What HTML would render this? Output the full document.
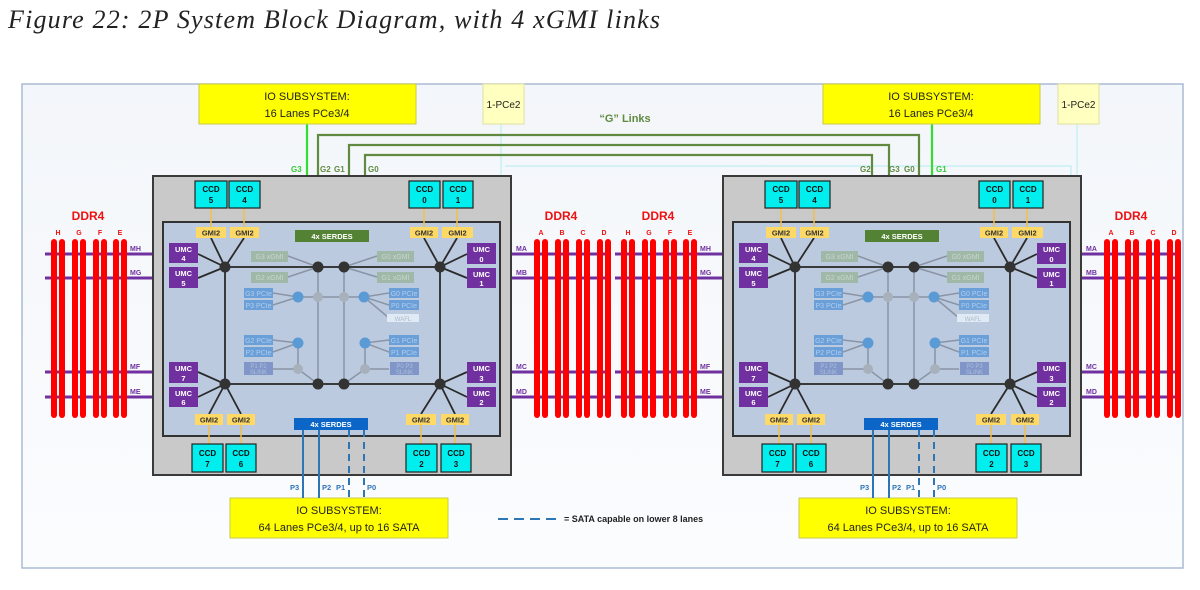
<!DOCTYPE html>
<html><head><meta charset="utf-8"><style>
html,body{margin:0;padding:0;background:#fff;width:1200px;height:590px;overflow:hidden}
svg{display:block}
text{font-family:"Liberation Sans",sans-serif}
</style></head><body>
<svg width="1200" height="590" viewBox="0 0 1200 590" xmlns="http://www.w3.org/2000/svg">
<defs>
<linearGradient id="bg" x1="0" y1="0" x2="0" y2="1"><stop offset="0" stop-color="#f3f6fa"/><stop offset="1" stop-color="#fbfcfe"/></linearGradient>
</defs>
<text x="8" y="28" font-family="Liberation Serif" font-style="italic" font-size="26" fill="#222" textLength="652" style="font-family:'Liberation Serif',serif">Figure 22: 2P System Block Diagram, with 4 xGMI links</text>
<rect x="22" y="84" width="1161" height="484" fill="url(#bg)" stroke="#a9bcd2" stroke-width="1.5"/>

<!-- faint cyan WAFL lines -->
<g stroke="#bfeef2" stroke-width="1.2" fill="none">
<polyline points="501,124 501,316 419,316"/>
<polyline points="505,166 1071,166 1071,316"/>
<polyline points="1077,124 1077,316 989,316"/>
</g>

<!-- G links -->
<g stroke="#5f8a3f" stroke-width="2.2" fill="none">
<polyline points="318,230 318,135 919,135 919,230"/>
<polyline points="349,230 349,145 889,145 889,230"/>
<polyline points="365,230 365,155 872,155 872,230"/>
</g>
<line x1="307" y1="124" x2="307" y2="230" stroke="#33dd33" stroke-width="2.2"/>
<line x1="932" y1="124" x2="932" y2="230" stroke="#33dd33" stroke-width="2.2"/>
<g font-size="8" font-weight="bold" fill="#5f8a3f">
<text x="291" y="172" fill="#33cc33">G3</text><text x="320" y="172">G2</text><text x="334" y="172">G1</text><text x="368" y="172">G0</text>
<text x="860" y="172">G2</text><text x="889" y="172">G3</text><text x="904" y="172">G0</text><text x="936" y="172" fill="#33cc33">G1</text>
</g>
<text x="625" y="122" font-size="11" font-weight="bold" fill="#5f8a3f" text-anchor="middle">“G” Links</text>

<!-- top IO boxes -->
<rect x="199" y="84" width="217" height="40" fill="#ffff00" stroke="#c8c850"/>
<text x="307" y="100" font-size="11" text-anchor="middle" fill="#222">IO SUBSYSTEM:</text>
<text x="307" y="117" font-size="11" text-anchor="middle" fill="#222">16 Lanes PCe3/4</text>
<rect x="823" y="84" width="217" height="40" fill="#ffff00" stroke="#c8c850"/>
<text x="931" y="100" font-size="11" text-anchor="middle" fill="#222">IO SUBSYSTEM:</text>
<text x="931" y="117" font-size="11" text-anchor="middle" fill="#222">16 Lanes PCe3/4</text>
<rect x="483" y="84" width="41" height="40" fill="#ffffc0" stroke="#e0e0a0"/>
<text x="503.5" y="108" font-size="10" text-anchor="middle" fill="#222">1-PCe2</text>
<rect x="1058" y="84" width="41" height="40" fill="#ffffc0" stroke="#e0e0a0"/>
<text x="1078.5" y="108" font-size="10" text-anchor="middle" fill="#222">1-PCe2</text>

<!-- bottom IO boxes -->
<rect x="230" y="498" width="218" height="40" fill="#ffff00" stroke="#c8c850"/>
<text x="339" y="514" font-size="11" text-anchor="middle" fill="#222">IO SUBSYSTEM:</text>
<text x="339" y="531" font-size="11" text-anchor="middle" fill="#222">64 Lanes PCe3/4, up to 16 SATA</text>
<rect x="799" y="498" width="218" height="40" fill="#ffff00" stroke="#c8c850"/>
<text x="908" y="514" font-size="11" text-anchor="middle" fill="#222">IO SUBSYSTEM:</text>
<text x="908" y="531" font-size="11" text-anchor="middle" fill="#222">64 Lanes PCe3/4, up to 16 SATA</text>

<!-- legend -->
<line x1="498" y1="519" x2="556" y2="519" stroke="#2e75b6" stroke-width="2" stroke-dasharray="10,6"/>
<text x="564" y="522" font-size="9" font-weight="bold" fill="#222">=  SATA capable on lower 8 lanes</text>

<!-- Sockets -->
<g id="sockL">
<!-- memory lines -->
<g stroke="#7030a0" stroke-width="3">
<line x1="45" y1="254" x2="169" y2="254"/><line x1="45" y1="278" x2="169" y2="278"/>
<line x1="45" y1="372" x2="169" y2="372"/><line x1="45" y1="397" x2="169" y2="397"/>
<line x1="496" y1="254" x2="608" y2="254"/><line x1="496" y1="278" x2="608" y2="278"/>
<line x1="496" y1="372" x2="608" y2="372"/><line x1="496" y1="397" x2="608" y2="397"/>
</g>
<g fill="#ff0000">
<rect x="51" y="239" width="6" height="179" rx="3"/><rect x="59" y="239" width="6" height="179" rx="3"/>
<rect x="72" y="239" width="6" height="179" rx="3"/><rect x="80" y="239" width="6" height="179" rx="3"/>
<rect x="93" y="239" width="6" height="179" rx="3"/><rect x="101" y="239" width="6" height="179" rx="3"/>
<rect x="113" y="239" width="6" height="179" rx="3"/><rect x="121" y="239" width="6" height="179" rx="3"/>
<rect x="534" y="239" width="6" height="179" rx="3"/><rect x="542" y="239" width="6" height="179" rx="3"/>
<rect x="555" y="239" width="6" height="179" rx="3"/><rect x="563" y="239" width="6" height="179" rx="3"/>
<rect x="576" y="239" width="6" height="179" rx="3"/><rect x="584" y="239" width="6" height="179" rx="3"/>
<rect x="597" y="239" width="6" height="179" rx="3"/><rect x="605" y="239" width="6" height="179" rx="3"/>
</g>
<g fill="#ee1111" font-weight="bold" text-anchor="middle">
<text x="88" y="220" font-size="12">DDR4</text><text x="561" y="220" font-size="12">DDR4</text>
<g font-size="7"><text x="58" y="235">H</text><text x="79" y="235">G</text><text x="100" y="235">F</text><text x="120" y="235">E</text>
<text x="541" y="235">A</text><text x="562" y="235">B</text><text x="583" y="235">C</text><text x="604" y="235">D</text></g>
</g>
<g fill="#7030a0" font-size="7" font-weight="bold">
<text x="130" y="251">MH</text><text x="130" y="275">MG</text><text x="130" y="369">MF</text><text x="130" y="394">ME</text>
<text x="516" y="251">MA</text><text x="516" y="275">MB</text><text x="516" y="369">MC</text><text x="516" y="394">MD</text>
</g>
<rect x="153" y="176" width="358" height="299" fill="#c9c9c9" stroke="#3a3a3a" stroke-width="2"/>
<rect x="163" y="222" width="337" height="214" fill="#bccae0" stroke="#333" stroke-width="2"/>
<!-- CCD-GMI connectors -->
<g stroke="#f2c04a" stroke-width="1.5">
<line x1="211" y1="208" x2="211" y2="227"/><line x1="244" y1="208" x2="244" y2="227"/>
<line x1="424" y1="208" x2="424" y2="227"/><line x1="457" y1="208" x2="457" y2="227"/>
<line x1="209" y1="425" x2="209" y2="444"/><line x1="241" y1="425" x2="241" y2="444"/>
<line x1="421" y1="425" x2="421" y2="444"/><line x1="455" y1="425" x2="455" y2="444"/>
</g>
<!-- inner fabric gray lines -->
<g stroke="#8a94a4" stroke-width="1.5" fill="none">
<line x1="318" y1="267" x2="318" y2="384"/><line x1="344" y1="267" x2="344" y2="384"/>
<line x1="298" y1="297" x2="364" y2="297"/>
<line x1="273" y1="293" x2="298" y2="297"/><line x1="273" y1="305" x2="298" y2="297"/>
<line x1="389" y1="293" x2="364" y2="297"/><line x1="389" y1="305" x2="364" y2="297"/><line x1="389" y1="318" x2="364" y2="297"/>
<line x1="273" y1="340" x2="298" y2="343"/><line x1="273" y1="352" x2="298" y2="343"/>
<line x1="389" y1="340" x2="365" y2="343"/><line x1="389" y1="352" x2="365" y2="343"/>
<line x1="298" y1="343" x2="298" y2="369"/><line x1="365" y1="343" x2="365" y2="369"/>
<line x1="273" y1="369" x2="298" y2="369"/><line x1="389" y1="369" x2="365" y2="369"/>
<line x1="298" y1="369" x2="318" y2="384"/><line x1="365" y1="369" x2="344" y2="384"/>
<line x1="288" y1="256" x2="318" y2="267"/><line x1="288" y1="277" x2="318" y2="267"/>
<line x1="377" y1="256" x2="344" y2="267"/><line x1="377" y1="277" x2="344" y2="267"/>
</g>
<!-- fabric black -->
<g stroke="#2a2a2a" stroke-width="1.8" fill="none">
<rect x="225" y="267" width="215" height="117"/>
<line x1="225" y1="267" x2="198" y2="254"/><line x1="225" y1="267" x2="198" y2="278"/>
<line x1="225" y1="267" x2="211" y2="238"/><line x1="225" y1="267" x2="244" y2="238"/>
<line x1="440" y1="267" x2="467" y2="254"/><line x1="440" y1="267" x2="467" y2="278"/>
<line x1="440" y1="267" x2="424" y2="238"/><line x1="440" y1="267" x2="457" y2="238"/>
<line x1="225" y1="384" x2="198" y2="372"/><line x1="225" y1="384" x2="198" y2="397"/>
<line x1="225" y1="384" x2="209" y2="414"/><line x1="225" y1="384" x2="241" y2="414"/>
<line x1="440" y1="384" x2="467" y2="372"/><line x1="440" y1="384" x2="467" y2="397"/>
<line x1="440" y1="384" x2="421" y2="414"/><line x1="440" y1="384" x2="455" y2="414"/>
</g>
<g fill="#333">
<circle cx="225" cy="267" r="5.5"/><circle cx="318" cy="267" r="5.5"/><circle cx="344" cy="267" r="5.5"/><circle cx="440" cy="267" r="5.5"/>
<circle cx="225" cy="384" r="5.5"/><circle cx="318" cy="384" r="5.5"/><circle cx="344" cy="384" r="5.5"/><circle cx="440" cy="384" r="5.5"/>
</g>
<g fill="#a8b0bc"><circle cx="318" cy="297" r="5"/><circle cx="344" cy="297" r="5"/><circle cx="298" cy="369" r="5"/><circle cx="365" cy="369" r="5"/></g>
<g fill="#5b9bd5"><circle cx="298" cy="297" r="5.5"/><circle cx="364" cy="297" r="5.5"/><circle cx="298" cy="343" r="5.5"/><circle cx="365" cy="343" r="5.5"/></g>
<!-- faded labels -->
<g font-size="7" text-anchor="middle">
<rect x="251" y="251" width="37" height="11" fill="#9fb8a8"/><text x="269.5" y="259" fill="#c8d6cc">G3 xGMI</text>
<rect x="251" y="272" width="37" height="11" fill="#9fb8a8"/><text x="269.5" y="280" fill="#c8d6cc">G2 xGMI</text>
<rect x="377" y="251" width="37" height="11" fill="#9fb8a8"/><text x="395.5" y="259" fill="#c8d6cc">G0 xGMI</text>
<rect x="377" y="272" width="37" height="11" fill="#9fb8a8"/><text x="395.5" y="280" fill="#c8d6cc">G1 xGMI</text>
<rect x="244" y="288" width="29" height="10" fill="#6a9fd8"/><text x="258.5" y="296" fill="#b0cdee">G3 PCIe</text>
<rect x="244" y="300" width="29" height="10" fill="#6a9fd8"/><text x="258.5" y="308" fill="#b0cdee">P3 PCIe</text>
<rect x="389" y="288" width="30" height="10" fill="#6a9fd8"/><text x="404" y="296" fill="#b0cdee">G0 PCIe</text>
<rect x="389" y="300" width="30" height="10" fill="#6a9fd8"/><text x="404" y="308" fill="#b0cdee">P0 PCIe</text>
<rect x="387" y="314" width="32" height="8" fill="#dfeaf4"/><text x="403" y="321" font-size="6" fill="#a8b8c8">WAFL</text>
<rect x="244" y="335" width="29" height="10" fill="#6a9fd8"/><text x="258.5" y="343" fill="#b0cdee">G2 PCIe</text>
<rect x="244" y="347" width="29" height="10" fill="#6a9fd8"/><text x="258.5" y="355" fill="#b0cdee">P2 PCIe</text>
<rect x="389" y="335" width="30" height="10" fill="#6a9fd8"/><text x="404" y="343" fill="#b0cdee">G1 PCIe</text>
<rect x="389" y="347" width="30" height="10" fill="#6a9fd8"/><text x="404" y="355" fill="#b0cdee">P1 PCIe</text>
<rect x="244" y="362" width="29" height="13" fill="#8096c8"/><text x="258.5" y="368" font-size="6" fill="#b0bedc">P1 P2</text><text x="258.5" y="374" font-size="6" fill="#b0bedc">SLINK</text>
<rect x="390" y="362" width="29" height="13" fill="#8096c8"/><text x="404.5" y="368" font-size="6" fill="#b0bedc">P0 P3</text><text x="404.5" y="374" font-size="6" fill="#b0bedc">SLINK</text>
</g>
<!-- GMI2 -->
<g fill="#ffd966">
<rect x="196" y="227" width="30" height="11"/><rect x="230" y="227" width="29" height="11"/>
<rect x="410" y="227" width="28" height="11"/><rect x="442" y="227" width="31" height="11"/>
<rect x="195" y="414" width="28" height="11"/><rect x="227" y="414" width="28" height="11"/>
<rect x="406" y="414" width="30" height="11"/><rect x="441" y="414" width="28" height="11"/>
</g>
<g font-size="7.5" font-weight="bold" fill="#333" text-anchor="middle">
<text x="211" y="235.5">GMI2</text><text x="244.5" y="235.5">GMI2</text><text x="424" y="235.5">GMI2</text><text x="457.5" y="235.5">GMI2</text>
<text x="209" y="422.5">GMI2</text><text x="241" y="422.5">GMI2</text><text x="421" y="422.5">GMI2</text><text x="455" y="422.5">GMI2</text>
</g>
<!-- CCDs -->
<g fill="#00eeee" stroke="#222" stroke-width="1.2">
<rect x="195" y="181" width="32" height="27"/><rect x="229" y="181" width="31" height="27"/>
<rect x="409" y="181" width="31" height="27"/><rect x="443" y="181" width="30" height="27"/>
<rect x="192" y="444" width="31" height="28"/><rect x="226" y="444" width="30" height="28"/>
<rect x="406" y="444" width="31" height="28"/><rect x="441" y="444" width="30" height="28"/>
</g>
<g font-size="8" font-weight="bold" fill="#111" text-anchor="middle">
<text x="211" y="192">CCD</text><text x="211" y="203">5</text>
<text x="244.5" y="192">CCD</text><text x="244.5" y="203">4</text>
<text x="424.5" y="192">CCD</text><text x="424.5" y="203">0</text>
<text x="458" y="192">CCD</text><text x="458" y="203">1</text>
<text x="207.5" y="456">CCD</text><text x="207.5" y="467">7</text>
<text x="241" y="456">CCD</text><text x="241" y="467">6</text>
<text x="421.5" y="456">CCD</text><text x="421.5" y="467">2</text>
<text x="456" y="456">CCD</text><text x="456" y="467">3</text>
</g>
<!-- UMCs -->
<g fill="#7030a0">
<rect x="169" y="243" width="29" height="20"/><rect x="169" y="267" width="29" height="21"/>
<rect x="467" y="243" width="29" height="21"/><rect x="467" y="268" width="29" height="20"/>
<rect x="169" y="362" width="29" height="21"/><rect x="169" y="387" width="29" height="20"/>
<rect x="467" y="362" width="29" height="21"/><rect x="467" y="387" width="29" height="20"/>
</g>
<g font-size="7.5" font-weight="bold" fill="#fff" text-anchor="middle">
<text x="183.5" y="252">UMC</text><text x="183.5" y="261">4</text>
<text x="183.5" y="276">UMC</text><text x="183.5" y="286">5</text>
<text x="481.5" y="252">UMC</text><text x="481.5" y="262">0</text>
<text x="481.5" y="277">UMC</text><text x="481.5" y="286">1</text>
<text x="183.5" y="371">UMC</text><text x="183.5" y="381">7</text>
<text x="183.5" y="396">UMC</text><text x="183.5" y="405">6</text>
<text x="481.5" y="371">UMC</text><text x="481.5" y="381">3</text>
<text x="481.5" y="396">UMC</text><text x="481.5" y="405">2</text>
</g>
<!-- SERDES -->
<rect x="295" y="230" width="74" height="12" fill="#548235"/>
<text x="332" y="239" font-size="7.5" font-weight="bold" fill="#fff" text-anchor="middle">4x SERDES</text>
<rect x="294" y="418" width="74" height="12" fill="#0b66c8"/>
<text x="331" y="427" font-size="7.5" font-weight="bold" fill="#fff" text-anchor="middle">4x SERDES</text>
<!-- P lines -->
<g stroke="#2e75b6" stroke-width="2">
<line x1="303" y1="430" x2="303" y2="498"/><line x1="319" y1="430" x2="319" y2="498"/>
<line x1="349" y1="430" x2="349" y2="498" stroke-dasharray="7,5"/><line x1="364" y1="430" x2="364" y2="498" stroke-dasharray="7,5"/>
</g>
<g font-size="7.5" font-weight="bold" fill="#2e75b6">
<text x="290" y="490">P3</text><text x="322" y="490">P2</text><text x="336" y="490">P1</text><text x="367" y="490">P0</text>
</g>
</g>

<g transform="translate(570,0)">
<g stroke="#7030a0" stroke-width="3">
<line x1="45" y1="254" x2="169" y2="254"/><line x1="45" y1="278" x2="169" y2="278"/>
<line x1="45" y1="372" x2="169" y2="372"/><line x1="45" y1="397" x2="169" y2="397"/>
<line x1="496" y1="254" x2="608" y2="254"/><line x1="496" y1="278" x2="608" y2="278"/>
<line x1="496" y1="372" x2="608" y2="372"/><line x1="496" y1="397" x2="608" y2="397"/>
</g>
<g fill="#ff0000">
<rect x="51" y="239" width="6" height="179" rx="3"/><rect x="59" y="239" width="6" height="179" rx="3"/>
<rect x="72" y="239" width="6" height="179" rx="3"/><rect x="80" y="239" width="6" height="179" rx="3"/>
<rect x="93" y="239" width="6" height="179" rx="3"/><rect x="101" y="239" width="6" height="179" rx="3"/>
<rect x="113" y="239" width="6" height="179" rx="3"/><rect x="121" y="239" width="6" height="179" rx="3"/>
<rect x="534" y="239" width="6" height="179" rx="3"/><rect x="542" y="239" width="6" height="179" rx="3"/>
<rect x="555" y="239" width="6" height="179" rx="3"/><rect x="563" y="239" width="6" height="179" rx="3"/>
<rect x="576" y="239" width="6" height="179" rx="3"/><rect x="584" y="239" width="6" height="179" rx="3"/>
<rect x="597" y="239" width="6" height="179" rx="3"/><rect x="605" y="239" width="6" height="179" rx="3"/>
</g>
<g fill="#ee1111" font-weight="bold" text-anchor="middle">
<text x="88" y="220" font-size="12">DDR4</text><text x="561" y="220" font-size="12">DDR4</text>
<g font-size="7"><text x="58" y="235">H</text><text x="79" y="235">G</text><text x="100" y="235">F</text><text x="120" y="235">E</text>
<text x="541" y="235">A</text><text x="562" y="235">B</text><text x="583" y="235">C</text><text x="604" y="235">D</text></g>
</g>
<g fill="#7030a0" font-size="7" font-weight="bold">
<text x="130" y="251">MH</text><text x="130" y="275">MG</text><text x="130" y="369">MF</text><text x="130" y="394">ME</text>
<text x="516" y="251">MA</text><text x="516" y="275">MB</text><text x="516" y="369">MC</text><text x="516" y="394">MD</text>
</g>
<rect x="153" y="176" width="358" height="299" fill="#c9c9c9" stroke="#3a3a3a" stroke-width="2"/>
<rect x="163" y="222" width="337" height="214" fill="#bccae0" stroke="#333" stroke-width="2"/>
<g stroke="#f2c04a" stroke-width="1.5">
<line x1="211" y1="208" x2="211" y2="227"/><line x1="244" y1="208" x2="244" y2="227"/>
<line x1="424" y1="208" x2="424" y2="227"/><line x1="457" y1="208" x2="457" y2="227"/>
<line x1="209" y1="425" x2="209" y2="444"/><line x1="241" y1="425" x2="241" y2="444"/>
<line x1="421" y1="425" x2="421" y2="444"/><line x1="455" y1="425" x2="455" y2="444"/>
</g>
<g stroke="#8a94a4" stroke-width="1.5" fill="none">
<line x1="318" y1="267" x2="318" y2="384"/><line x1="344" y1="267" x2="344" y2="384"/>
<line x1="298" y1="297" x2="364" y2="297"/>
<line x1="273" y1="293" x2="298" y2="297"/><line x1="273" y1="305" x2="298" y2="297"/>
<line x1="389" y1="293" x2="364" y2="297"/><line x1="389" y1="305" x2="364" y2="297"/><line x1="389" y1="318" x2="364" y2="297"/>
<line x1="273" y1="340" x2="298" y2="343"/><line x1="273" y1="352" x2="298" y2="343"/>
<line x1="389" y1="340" x2="365" y2="343"/><line x1="389" y1="352" x2="365" y2="343"/>
<line x1="298" y1="343" x2="298" y2="369"/><line x1="365" y1="343" x2="365" y2="369"/>
<line x1="273" y1="369" x2="298" y2="369"/><line x1="389" y1="369" x2="365" y2="369"/>
<line x1="298" y1="369" x2="318" y2="384"/><line x1="365" y1="369" x2="344" y2="384"/>
<line x1="288" y1="256" x2="318" y2="267"/><line x1="288" y1="277" x2="318" y2="267"/>
<line x1="377" y1="256" x2="344" y2="267"/><line x1="377" y1="277" x2="344" y2="267"/>
</g>
<g stroke="#2a2a2a" stroke-width="1.8" fill="none">
<rect x="225" y="267" width="215" height="117"/>
<line x1="225" y1="267" x2="198" y2="254"/><line x1="225" y1="267" x2="198" y2="278"/>
<line x1="225" y1="267" x2="211" y2="238"/><line x1="225" y1="267" x2="244" y2="238"/>
<line x1="440" y1="267" x2="467" y2="254"/><line x1="440" y1="267" x2="467" y2="278"/>
<line x1="440" y1="267" x2="424" y2="238"/><line x1="440" y1="267" x2="457" y2="238"/>
<line x1="225" y1="384" x2="198" y2="372"/><line x1="225" y1="384" x2="198" y2="397"/>
<line x1="225" y1="384" x2="209" y2="414"/><line x1="225" y1="384" x2="241" y2="414"/>
<line x1="440" y1="384" x2="467" y2="372"/><line x1="440" y1="384" x2="467" y2="397"/>
<line x1="440" y1="384" x2="421" y2="414"/><line x1="440" y1="384" x2="455" y2="414"/>
</g>
<g fill="#333">
<circle cx="225" cy="267" r="5.5"/><circle cx="318" cy="267" r="5.5"/><circle cx="344" cy="267" r="5.5"/><circle cx="440" cy="267" r="5.5"/>
<circle cx="225" cy="384" r="5.5"/><circle cx="318" cy="384" r="5.5"/><circle cx="344" cy="384" r="5.5"/><circle cx="440" cy="384" r="5.5"/>
</g>
<g fill="#a8b0bc"><circle cx="318" cy="297" r="5"/><circle cx="344" cy="297" r="5"/><circle cx="298" cy="369" r="5"/><circle cx="365" cy="369" r="5"/></g>
<g fill="#5b9bd5"><circle cx="298" cy="297" r="5.5"/><circle cx="364" cy="297" r="5.5"/><circle cx="298" cy="343" r="5.5"/><circle cx="365" cy="343" r="5.5"/></g>
<g font-size="7" text-anchor="middle">
<rect x="251" y="251" width="37" height="11" fill="#9fb8a8"/><text x="269.5" y="259" fill="#c8d6cc">G3 xGMI</text>
<rect x="251" y="272" width="37" height="11" fill="#9fb8a8"/><text x="269.5" y="280" fill="#c8d6cc">G2 xGMI</text>
<rect x="377" y="251" width="37" height="11" fill="#9fb8a8"/><text x="395.5" y="259" fill="#c8d6cc">G0 xGMI</text>
<rect x="377" y="272" width="37" height="11" fill="#9fb8a8"/><text x="395.5" y="280" fill="#c8d6cc">G1 xGMI</text>
<rect x="244" y="288" width="29" height="10" fill="#6a9fd8"/><text x="258.5" y="296" fill="#b0cdee">G3 PCIe</text>
<rect x="244" y="300" width="29" height="10" fill="#6a9fd8"/><text x="258.5" y="308" fill="#b0cdee">P3 PCIe</text>
<rect x="389" y="288" width="30" height="10" fill="#6a9fd8"/><text x="404" y="296" fill="#b0cdee">G0 PCIe</text>
<rect x="389" y="300" width="30" height="10" fill="#6a9fd8"/><text x="404" y="308" fill="#b0cdee">P0 PCIe</text>
<rect x="387" y="314" width="32" height="8" fill="#dfeaf4"/><text x="403" y="321" font-size="6" fill="#a8b8c8">WAFL</text>
<rect x="244" y="335" width="29" height="10" fill="#6a9fd8"/><text x="258.5" y="343" fill="#b0cdee">G2 PCIe</text>
<rect x="244" y="347" width="29" height="10" fill="#6a9fd8"/><text x="258.5" y="355" fill="#b0cdee">P2 PCIe</text>
<rect x="389" y="335" width="30" height="10" fill="#6a9fd8"/><text x="404" y="343" fill="#b0cdee">G1 PCIe</text>
<rect x="389" y="347" width="30" height="10" fill="#6a9fd8"/><text x="404" y="355" fill="#b0cdee">P1 PCIe</text>
<rect x="244" y="362" width="29" height="13" fill="#8096c8"/><text x="258.5" y="368" font-size="6" fill="#b0bedc">P1 P2</text><text x="258.5" y="374" font-size="6" fill="#b0bedc">SLINK</text>
<rect x="390" y="362" width="29" height="13" fill="#8096c8"/><text x="404.5" y="368" font-size="6" fill="#b0bedc">P0 P3</text><text x="404.5" y="374" font-size="6" fill="#b0bedc">SLINK</text>
</g>
<g fill="#ffd966">
<rect x="196" y="227" width="30" height="11"/><rect x="230" y="227" width="29" height="11"/>
<rect x="410" y="227" width="28" height="11"/><rect x="442" y="227" width="31" height="11"/>
<rect x="195" y="414" width="28" height="11"/><rect x="227" y="414" width="28" height="11"/>
<rect x="406" y="414" width="30" height="11"/><rect x="441" y="414" width="28" height="11"/>
</g>
<g font-size="7.5" font-weight="bold" fill="#333" text-anchor="middle">
<text x="211" y="235.5">GMI2</text><text x="244.5" y="235.5">GMI2</text><text x="424" y="235.5">GMI2</text><text x="457.5" y="235.5">GMI2</text>
<text x="209" y="422.5">GMI2</text><text x="241" y="422.5">GMI2</text><text x="421" y="422.5">GMI2</text><text x="455" y="422.5">GMI2</text>
</g>
<g fill="#00eeee" stroke="#222" stroke-width="1.2">
<rect x="195" y="181" width="32" height="27"/><rect x="229" y="181" width="31" height="27"/>
<rect x="409" y="181" width="31" height="27"/><rect x="443" y="181" width="30" height="27"/>
<rect x="192" y="444" width="31" height="28"/><rect x="226" y="444" width="30" height="28"/>
<rect x="406" y="444" width="31" height="28"/><rect x="441" y="444" width="30" height="28"/>
</g>
<g font-size="8" font-weight="bold" fill="#111" text-anchor="middle">
<text x="211" y="192">CCD</text><text x="211" y="203">5</text>
<text x="244.5" y="192">CCD</text><text x="244.5" y="203">4</text>
<text x="424.5" y="192">CCD</text><text x="424.5" y="203">0</text>
<text x="458" y="192">CCD</text><text x="458" y="203">1</text>
<text x="207.5" y="456">CCD</text><text x="207.5" y="467">7</text>
<text x="241" y="456">CCD</text><text x="241" y="467">6</text>
<text x="421.5" y="456">CCD</text><text x="421.5" y="467">2</text>
<text x="456" y="456">CCD</text><text x="456" y="467">3</text>
</g>
<g fill="#7030a0">
<rect x="169" y="243" width="29" height="20"/><rect x="169" y="267" width="29" height="21"/>
<rect x="467" y="243" width="29" height="21"/><rect x="467" y="268" width="29" height="20"/>
<rect x="169" y="362" width="29" height="21"/><rect x="169" y="387" width="29" height="20"/>
<rect x="467" y="362" width="29" height="21"/><rect x="467" y="387" width="29" height="20"/>
</g>
<g font-size="7.5" font-weight="bold" fill="#fff" text-anchor="middle">
<text x="183.5" y="252">UMC</text><text x="183.5" y="261">4</text>
<text x="183.5" y="276">UMC</text><text x="183.5" y="286">5</text>
<text x="481.5" y="252">UMC</text><text x="481.5" y="262">0</text>
<text x="481.5" y="277">UMC</text><text x="481.5" y="286">1</text>
<text x="183.5" y="371">UMC</text><text x="183.5" y="381">7</text>
<text x="183.5" y="396">UMC</text><text x="183.5" y="405">6</text>
<text x="481.5" y="371">UMC</text><text x="481.5" y="381">3</text>
<text x="481.5" y="396">UMC</text><text x="481.5" y="405">2</text>
</g>
<rect x="295" y="230" width="74" height="12" fill="#548235"/>
<text x="332" y="239" font-size="7.5" font-weight="bold" fill="#fff" text-anchor="middle">4x SERDES</text>
<rect x="294" y="418" width="74" height="12" fill="#0b66c8"/>
<text x="331" y="427" font-size="7.5" font-weight="bold" fill="#fff" text-anchor="middle">4x SERDES</text>
<g stroke="#2e75b6" stroke-width="2">
<line x1="303" y1="430" x2="303" y2="498"/><line x1="319" y1="430" x2="319" y2="498"/>
<line x1="349" y1="430" x2="349" y2="498" stroke-dasharray="7,5"/><line x1="364" y1="430" x2="364" y2="498" stroke-dasharray="7,5"/>
</g>
<g font-size="7.5" font-weight="bold" fill="#2e75b6">
<text x="290" y="490">P3</text><text x="322" y="490">P2</text><text x="336" y="490">P1</text><text x="367" y="490">P0</text>
</g>
</g>
</svg>
</body></html>
